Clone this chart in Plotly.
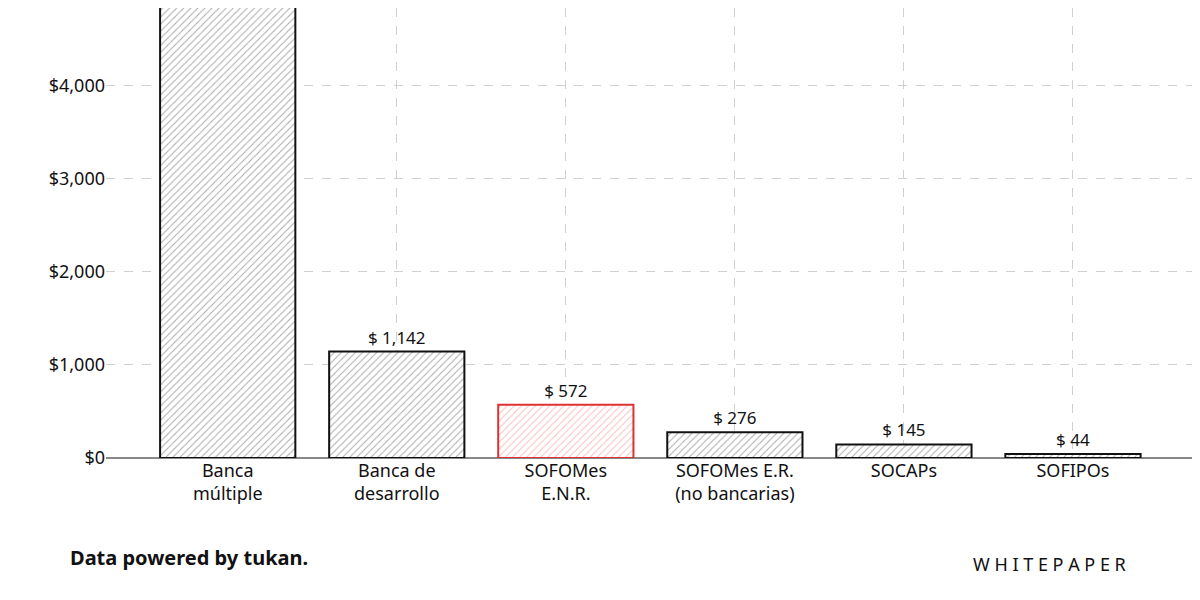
import plotly.graph_objects as go

categories = ["Banca<br>múltiple", "Banca de<br>desarrollo", "SOFOMes<br>E.N.R.",
              "SOFOMes E.R.<br>(no bancarias)", "SOCAPs", "SOFIPOs"]
values = [7200, 1142, 572, 276, 145, 44]
labels = ["", "$ 1,142", "$ 572", "$ 276", "$ 145", "$ 44"]
highlight = [False, False, True, False, False, False]
tick_vals = [0, 1000, 2000, 3000, 4000, 5000]
tick_text = ["$0", "$1,000", "$2,000", "$3,000", "$4,000", "$5,000"]

line_colors = ["#e03131" if h else "#111111" for h in highlight]
hatch_colors = ["#f08080" if h else "#555555" for h in highlight]

font = "Noto Sans"

fig = go.Figure(
    go.Bar(
        x=categories,
        y=values,
        width=0.8,
        text=labels,
        textposition="outside",
        textfont={"size": 17, "color": "#111111", "family": font},
        marker={
            "color": "white",
            "line": {"color": line_colors, "width": 2},
            "pattern": {"shape": "/", "fgcolor": hatch_colors, "bgcolor": "white",
                        "size": 5, "solidity": 0.2},
        },
        cliponaxis=True,
    )
)
fig.update_layout(
    width=1200,
    height=600,
    plot_bgcolor="white",
    paper_bgcolor="white",
    margin={"l": 98, "r": 15, "t": 0, "b": 150},
    showlegend=False,
    font={"family": font, "color": "#111111"},
    xaxis={
        "range": [-0.72, 5.71],
        "showgrid": True,
        "gridcolor": "#d0d0d0",
        "griddash": "dash",
        "tickfont": {"size": 18},
        "ticks": "",
    },
    yaxis={
        "range": [0, 4830],
        "tickvals": tick_vals,
        "ticktext": tick_text,
        "showgrid": True,
        "gridcolor": "#d0d0d0",
        "griddash": "dash",
        "zeroline": True,
        "zerolinecolor": "#888888",
        "zerolinewidth": 1.5,
        "tickfont": {"size": 18},
        "ticksuffix": "  ",
    },
    annotations=[
        {"text": "<b>Data powered by tukan.</b>", "xref": "paper", "yref": "paper",
         "x": -0.035, "y": -0.22, "xanchor": "left", "yanchor": "middle",
         "showarrow": False, "font": {"size": 20, "family": font}},
        {"text": "W H I T E P A P E R", "xref": "paper", "yref": "paper",
         "x": 0.94, "y": -0.235, "xanchor": "right", "yanchor": "middle",
         "showarrow": False, "font": {"size": 18, "family": font}},
    ],
)

fig.write_html("out.html")
